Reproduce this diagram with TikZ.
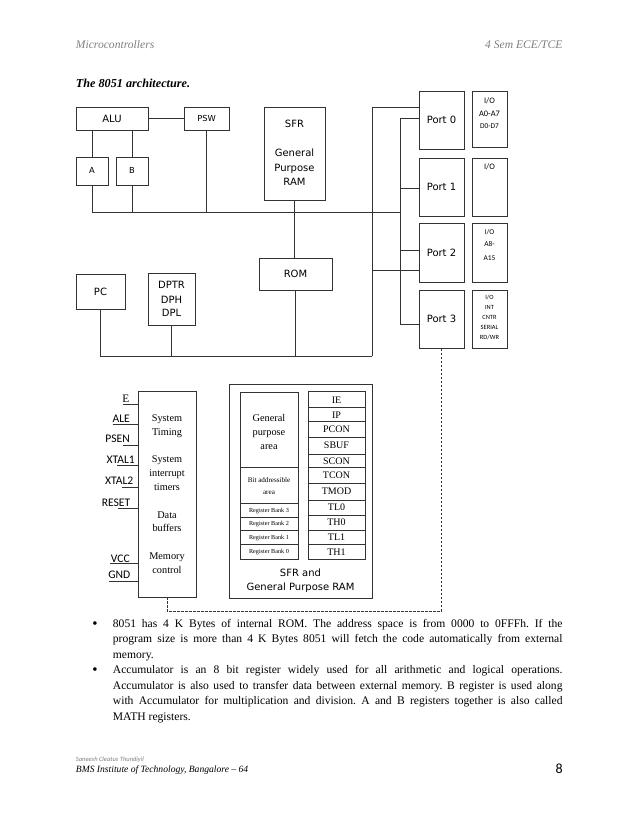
\documentclass[tikz,border=0pt]{standalone}
\usepackage{fontspec}
\setmainfont{Liberation Serif}
\newfontfamily\vsans{DejaVu Sans}
\newfontfamily\calib{Carlito}
\definecolor{ln}{HTML}{333333}
\definecolor{hd}{HTML}{808080}
\frenchspacing
\newcommand\bx[7][]{\node[box,#1,minimum width={(#5)-(#3)},minimum height={(#6)-(#4)}] (#2) at ({((#3)+(#5))/2},{((#4)+(#6))/2}) {#7};}
\begin{document}
\begin{tikzpicture}[x=1pt,y=-1pt,
  box/.style={draw=ln,line width=0.85pt,inner sep=0pt,text height=7.3pt,text depth=0pt,font=\vsans\fontsize{10}{12}\selectfont},
  wire/.style={draw=ln,line width=0.85pt},
  dsh/.style={draw=ln,line width=0.85pt,dash pattern=on 2.4pt off 1.6pt},
  V/.style={font=\vsans\fontsize{10}{12}\selectfont,inner sep=0pt,text height=7.3pt,text depth=0pt},
  Vs/.style={font=\vsans\fontsize{8.3}{10}\selectfont,text height=6pt},
  C8/.style={font=\calib\fontsize{8.4}{9}\selectfont,inner sep=0pt,text height=5.4pt,text depth=0pt},
  C7/.style={font=\calib\fontsize{7.4}{8}\selectfont,inner sep=0pt,text height=4.8pt,text depth=0pt},
  C6/.style={font=\calib\fontsize{6.4}{7}\selectfont,inner sep=0pt,text height=4.1pt,text depth=0pt},
  C11/.style={font=\calib\fontsize{11.6}{12}\selectfont,inner sep=0pt,text height=7.4pt,text depth=0pt,anchor=east},
  T10/.style={font=\fontsize{10.3}{12}\selectfont,inner sep=0pt,text height=6.8pt,text depth=0pt},
  TR/.style={font=\fontsize{10}{12}\selectfont,text height=6.6pt},
  T7/.style={font=\fontsize{7.1}{8}\selectfont,inner sep=0pt,text height=4.7pt,text depth=0pt},
  T6/.style={font=\fontsize{6.2}{7}\selectfont,text height=4.1pt},
  body/.style={font=\fontsize{11.6}{15.5}\selectfont,inner sep=0pt,anchor=base west},
]
\path[fill=white,use as bounding box] (0,0) rectangle (638,826);

% header
\node[font=\itshape\fontsize{11.6}{13}\selectfont,text=hd,inner sep=0pt,anchor=base west] (hl) at (75.7,49) {Microcontrollers};
\node[font=\itshape\fontsize{11.6}{13}\selectfont,text=hd,inner sep=0pt,anchor=base east] (hr) at (562.7,49) {4 Sem ECE/TCE};
\node[font=\bfseries\itshape\fontsize{12.2}{14}\selectfont,inner sep=0pt,anchor=base west] (title) at (75.7,87.3) {The 8051 architecture.};

% upper block
\bx{alu}{76}{107}{148}{130}{ALU}
\bx[Vs]{psw}{184}{107}{229}{130}{PSW}
\bx[Vs]{a}{76}{157}{108}{185}{A}
\bx[Vs]{b}{116}{157}{148}{185}{B}
\bx{sfr}{264}{107}{325}{200}{}
\node[V] (tsfr) at (294.5,124.3) {SFR};
\node[V] (tgen) at (294.5,153.3) {General};
\node[V] (tpur) at (294.5,167.7) {Purpose};
\node[V] (tram) at (294.5,182.3) {RAM};
\bx{rom}{259}{258}{332}{290}{ROM}
\bx{pc}{76}{274}{125}{309}{PC}
\bx{dptr}{148}{273}{195}{325}{}
\node[V] (tdptr) at (171.5,285) {DPTR};
\node[V] (tdph) at (171.5,300) {DPH};
\node[V] (tdpl) at (171.5,313.3) {DPL};

% ports
\bx{port0}{419}{91}{464}{149}{Port 0}
\bx{port1}{419}{158}{464}{216}{Port 1}
\bx{port2}{419}{223}{464}{282}{Port 2}
\bx{port3}{419}{290}{464}{348}{Port 3}
\bx{io0}{472}{91}{507}{147}{}
\bx{io1}{472}{158}{507}{216}{}
\bx{io2}{472}{223}{507}{282}{}
\bx{io3}{472}{290}{507}{348}{}
\node[C8] (i0a) at (489.5,101) {I/O};
\node[C8] (i0b) at (489.5,113.5) {A0-A7};
\node[C7] (i0c) at (489.5,126.3) {D0-D7};
\node[C8] (i1a) at (489.5,167.3) {I/O};
\node[C7] (i2a) at (489.5,231.7) {I/O};
\node[C7] (i2b) at (489.5,244.3) {A8-};
\node[C7] (i2c) at (489.5,257.7) {A15};
\node[C6] (i3a) at (489.5,297.5) {I/O};
\node[C6] (i3b) at (489.5,307.5) {INT};
\node[C6] (i3c) at (489.5,317.5) {CNTR};
\node[C6] (i3d) at (489.5,327.5) {SERIAL};
\node[C6] (i3e) at (489.5,337.5) {RD/WR};

% connectors
\coordinate (busU) at (400,212);
\coordinate (v1t) at (372,107);
\coordinate (v1b) at (372,356);
\coordinate (v2t) at (400,118.3);
\coordinate (v2b) at (400,324.3);
\coordinate (p2j) at (372,270.7);
\coordinate (p1j) at (400,188.7);
\coordinate (p2k) at (400,250.7);
\coordinate (dl) at (166,611);
\draw[wire] (alu.east) -- (psw.west);
\draw[wire] (a.north) -- (a.north |- alu.south);
\draw[wire] (b.north) -- (b.north |- alu.south);
\draw[wire] (a.south) |- (busU);
\draw[wire] (b.south) -- (b.south |- busU);
\draw[wire] (psw.south) -- (psw.south |- busU);
\draw[wire] (sfr.south) -- (sfr.south |- rom.north);
\draw[wire] (port0.west |- v1t) -- (v1t) -- (v1b);
\draw[wire] (pc.south) |- (v1b);
\draw[wire] (dptr.south) -- (dptr.south |- v1b);
\draw[wire] (rom.south) -- (rom.south |- v1b);
\draw[wire] (p2j) -- (port2.west |- p2j);
\draw[wire] (port0.west |- v2t) -- (v2t) -- (v2b) -- (port3.west |- v2b);
\draw[wire] (p1j) -- (port1.west |- p1j);
\draw[wire] (p2k) -- (port2.west |- p2k);

% system box
\bx{sys}{138}{391}{196}{597}{}
\node[T10] (s1) at (167,417.7) {System};
\node[T10] (s2) at (167,431.7) {Timing};
\node[T10] (s3) at (167,459.3) {System};
\node[T10] (s4) at (167,473.3) {interrupt};
\node[T10] (s5) at (167,487) {timers};
\node[T10] (s6) at (167,514.7) {Data};
\node[T10] (s7) at (167,528.3) {buffers};
\node[T10] (s8) at (167,555.7) {Memory};
\node[T10] (s9) at (167,570) {control};

% pins
\node[font=\fontsize{11.4}{12}\selectfont,inner sep=0pt,text height=7.4pt,text depth=0pt,anchor=east] (pe) at (129.5,398.3) {E};
\node[C11] (pale) at (130,418.3) {ALE};
\node[C11] (ppsen) at (130,439) {PSEN};
\node[C11] (px1) at (135,460) {XTAL1};
\node[C11] (px2) at (133.5,480.7) {XTAL2};
\node[C11] (prst) at (130.5,502.7) {RESET};
\node[C11] (pvcc) at (130,558.3) {VCC};
\node[C11] (pgnd) at (130.5,574.3) {GND};
\coordinate (le) at (123,404.5);
\coordinate (lale) at (112.7,424);
\coordinate (lpsen) at (123,445);
\coordinate (lx1) at (117.3,465);
\coordinate (lx2) at (121.7,487.3);
\coordinate (lrst) at (118,508);
\coordinate (lvcc) at (110,563);
\coordinate (lgnd) at (109.3,581.5);
\foreach \c in {le,lale,lpsen,lx1,lx2,lrst,lvcc,lgnd}
  \draw[wire] (\c) -- (\c -| sys.west);

% SFR and general purpose RAM
\bx{ram}{229}{384}{372}{598}{}
\bx{gpa}{240}{392}{298}{467.3}{}
\node[T10] (g1) at (269,417.7) {General};
\node[T10] (g2) at (269,432.3) {purpose};
\node[T10] (g3) at (269,445.7) {area};
\bx{bit}{240}{467.3}{298}{503.3}{}
\node[T7] (b1) at (269,480) {Bit addressible};
\node[T7] (b2) at (269,491.7) {area};
\bx[T6]{rb3}{240}{503.3}{298}{517}{Register Bank 3}
\bx[T6]{rb2}{240}{517}{298}{530.7}{Register Bank 2}
\bx[T6]{rb1}{240}{530.7}{298}{544}{Register Bank 1}
\bx[T6]{rb0}{240}{544}{298}{559.3}{Register Bank 0}
\bx[TR]{rIE}{308}{391.7}{365}{407.7}{IE}
\bx[TR]{rIP}{308}{407.7}{365}{421.7}{IP}
\bx[TR]{rPCON}{308}{421.7}{365}{437.3}{PCON}
\bx[TR]{rSBUF}{308}{437.3}{365}{454}{SBUF}
\bx[TR]{rSCON}{308}{454}{365}{467.7}{SCON}
\bx[TR]{rTCON}{308}{467.7}{365}{483.3}{TCON}
\bx[TR]{rTMOD}{308}{483.3}{365}{500}{TMOD}
\bx[TR]{rTL0}{308}{500}{365}{515}{TL0}
\bx[TR]{rTH0}{308}{515}{365}{530}{TH0}
\bx[TR]{rTL1}{308}{530}{365}{544.3}{TL1}
\bx[TR]{rTH1}{308}{544.3}{365}{559.3}{TH1}
\node[V] (ram1) at (300.5,572.7) {SFR and};
\node[V] (ram2) at (300.5,587.3) {General Purpose RAM};

% dashed link
\draw[dsh] (sys.south) -- (sys.south |- dl) -| (port3.south);

% body text
\node[font=\fontsize{15}{15.5}\selectfont,inner sep=0pt,anchor=base] (bul1) at (95,628) {•};
\node[font=\fontsize{15}{15.5}\selectfont,inner sep=0pt,anchor=base] (bul2) at (95,674.5) {•};
\node[body] (l1) at (112.7,627) {\makebox[449.6pt][s]{8051 has 4 K Bytes of internal ROM. The address space is from 0000 to 0FFFh. If the}};
\node[body] (l2) at (112.7,642.5) {\makebox[449.6pt][s]{program size is more than 4 K Bytes 8051 will fetch the code automatically from external}};
\node[body] (l3) at (112.7,658) {memory.};
\node[body] (l4) at (112.7,673.5) {\makebox[449.6pt][s]{Accumulator is an 8 bit register widely used for all arithmetic and logical operations.}};
\node[body] (l5) at (112.7,689) {\makebox[449.6pt][s]{Accumulator is also used to transfer data between external memory. B register is used along}};
\node[body] (l6) at (112.7,704.5) {\makebox[449.6pt][s]{with Accumulator for multiplication and division. A and B registers together is also called}};
\node[body] (l7) at (112.7,720) {MATH registers.};

% footer
\node[font=\calib\itshape\fontsize{6.5}{8}\selectfont,text=hd,inner sep=0pt,anchor=base west] (f1) at (75.7,761) {Saneesh Cleatus Thundiyil};
\node[font=\itshape\fontsize{9.6}{11}\selectfont,inner sep=0pt,anchor=base west] (f2) at (75.7,772.5) {BMS Institute of Technology, Bangalore – 64};
\node[font=\calib\fontsize{14}{16}\selectfont,inner sep=0pt,anchor=base east] (f3) at (563,773) {8};
\end{tikzpicture}
\end{document}
